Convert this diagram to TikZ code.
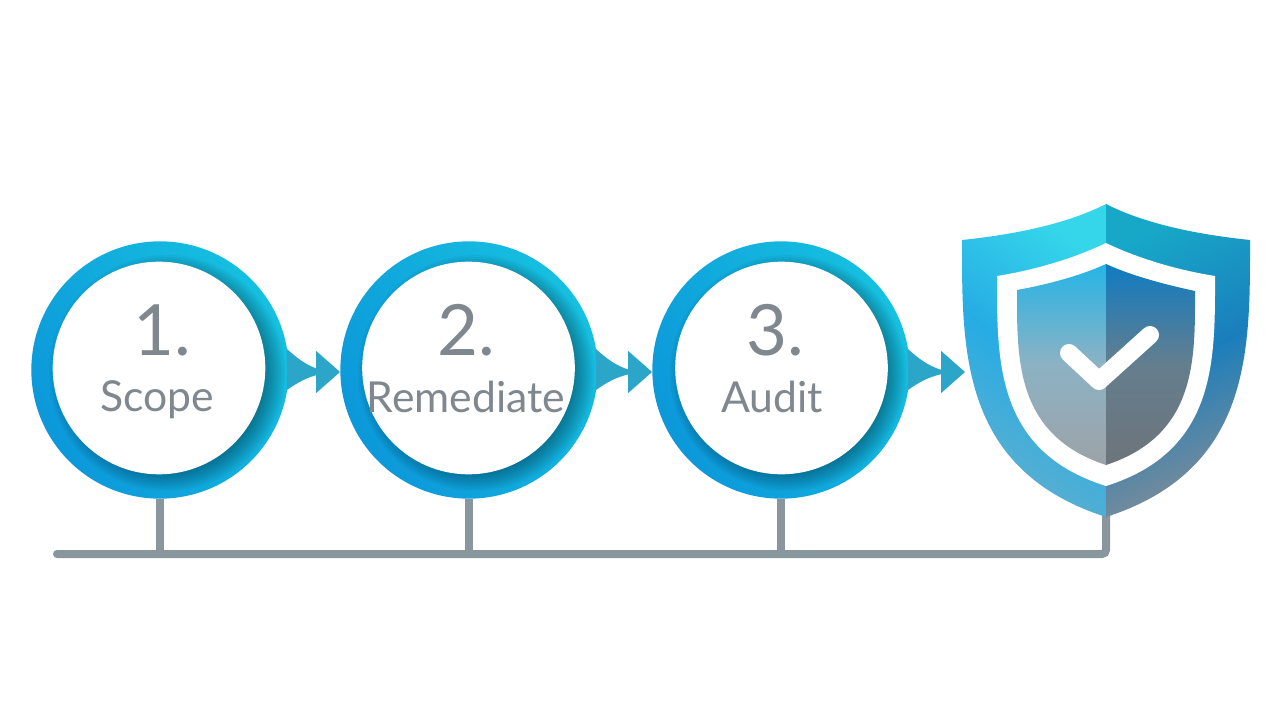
\documentclass[tikz,border=0pt]{standalone}
\usepackage{fontspec}
\setmainfont{Lato}
\usetikzlibrary{arrows.meta}

\definecolor{barcol}{HTML}{8A969E}
\definecolor{textcol}{HTML}{7F878F}
\definecolor{arrowcol}{HTML}{2BA6C8}
\definecolor{ringleft}{HTML}{0C98DA}
\definecolor{ringright}{HTML}{16C0E0}
\definecolor{outertop}{HTML}{35D6EA}
\definecolor{outermid}{HTML}{26ACE4}
\definecolor{outerlow}{HTML}{5FAFCE}
\definecolor{sidetop}{HTML}{17A8C8}
\definecolor{sidemid}{HTML}{1A7EBC}
\definecolor{sidelow}{HTML}{7E8C98}
\definecolor{innertop}{HTML}{25B4E6}
\definecolor{innermid}{HTML}{8DB2C4}
\definecolor{innerlow}{HTML}{9CA3A8}
\definecolor{darktop}{HTML}{0F7CC2}
\definecolor{darkmid}{HTML}{647E8E}
\definecolor{darklow}{HTML}{6D747A}

\tikzset{
    ring/.style={circle, inner sep=0, minimum size=193pt, left color=ringleft, right color=ringright, shading angle=120},
    hole/.style={circle, inner sep=0, minimum size=159.5pt, fill=white},
    numtext/.style={text=textcol, font=\fontsize{53}{53}\selectfont},
    steptext/.style={text=textcol, font=\fontsize{32}{32}\selectfont},
    stem/.style={barcol, line width=6pt},
    flow/.style={arrowcol, line width=3pt, -{Triangle[length=18pt,width=31pt]}},
    pics/flare/.style={code={
	\fill[arrowcol] (-2,-23) .. controls (8,-14) and (18,-6) .. (32,-2)
	    -- (32,2) .. controls (18,5) and (8,11) .. (-2,18) -- cycle;
    }},
}

\begin{document}
\begin{tikzpicture}[x=0.75pt, y=-0.75pt]
    \useasboundingbox (0, 0) rectangle (1280, 720);
    \fill[white] (0, 0) rectangle (1280, 720);

    % bar under the steps
    \coordinate (barstart) at (57, 554);
    \coordinate (shieldfoot) at (1106, 510);
    \coordinate (shieldin) at (965, 372);
    \draw[stem, line cap=round, rounded corners=3pt] (barstart) -- (barstart -| shieldfoot) -- (shieldfoot);

    % rings
    \node[ring] (scopering) at (160, 370) {};
    \node[ring] (fixring) at (469, 370) {};
    \node[ring] (auditring) at (781, 370) {};

    \draw[stem] (scopering.south) -- (scopering.south |- barstart);
    \draw[stem] (fixring.south) -- (fixring.south |- barstart);
    \draw[stem] (auditring.south) -- (auditring.south |- barstart);

    % soft shadow inside each ring
    \begin{scope}
	\clip (160, 370) circle (128.5);
	\foreach \r in {96, 98, ..., 118}
	    \fill[black, opacity=0.035] (167, 373) circle (\r);
    \end{scope}
    \begin{scope}
	\clip (469, 370) circle (128.5);
	\foreach \r in {96, 98, ..., 118}
	    \fill[black, opacity=0.035] (476, 373) circle (\r);
    \end{scope}
    \begin{scope}
	\clip (781, 370) circle (128.5);
	\foreach \r in {96, 98, ..., 118}
	    \fill[black, opacity=0.035] (788, 373) circle (\r);
    \end{scope}

    \node[hole] (scopehole) at (159, 368) {};
    \node[hole] (fixhole) at (468.5, 368) {};
    \node[hole] (audithole) at (781.5, 368) {};

    % arrows
    \pic at ([yshift=-1.5pt]scopering.east) {flare};
    \pic at ([yshift=-1.5pt]fixring.east) {flare};
    \pic at ([yshift=-1.5pt]auditring.east) {flare};
    \draw[flow] ([yshift=-1.5pt]scopering.east) -- ([yshift=-1.5pt]fixring.west);
    \draw[flow] ([yshift=-1.5pt]fixring.east) -- ([yshift=-1.5pt]auditring.west);
    \draw[flow] ([yshift=-1.5pt]auditring.east) -- (shieldin);

    % labels
    \node[numtext] (scopenum) at (162, 330) {1.};
    \node[steptext] (scopetext) at (157, 400) {Scope};
    \node[numtext] (fixnum) at (466, 330) {2.};
    \node[steptext] (fixtext) at (466, 397) {Remediate};
    \node[numtext] (auditnum) at (775, 330) {3.};
    \node[steptext] (audittext) at (772, 397) {Audit};

    % shield
    \shade[top color=outertop, bottom color=outerlow, middle color=outermid, shading angle=-35]
	(1106, 204) .. controls (1065, 225) and (1010, 235) .. (962, 240)
	.. controls (962, 350) and (960, 470) .. (1106, 517) -- cycle;
    \shade[top color=sidetop, bottom color=sidelow, middle color=sidemid, shading angle=25]
	(1106, 204) .. controls (1147, 225) and (1202, 235) .. (1250, 240)
	.. controls (1250, 350) and (1252, 470) .. (1106, 517) -- cycle;
    \fill[white]
	(1106, 243) .. controls (1075, 258) and (1035, 270) .. (997, 276)
	.. controls (997, 360) and (995, 451) .. (1106, 486)
	.. controls (1217, 451) and (1215, 360) .. (1215, 276)
	.. controls (1177, 270) and (1137, 258) .. (1106, 243) -- cycle;
    \shade[top color=innertop, bottom color=innerlow, middle color=innermid]
	(1106, 264) .. controls (1080, 276) and (1045, 285) .. (1017, 290)
	.. controls (1017, 359) and (1015, 435) .. (1106, 465) -- cycle;
    \shade[top color=darktop, bottom color=darklow, middle color=darkmid]
	(1106, 264) .. controls (1132, 276) and (1167, 285) .. (1195, 291)
	.. controls (1195, 359) and (1197, 435) .. (1106, 465) -- cycle;
    \draw[white, line width=13.5pt, line cap=round, line join=round]
	(1069, 353) -- (1099, 381) -- (1150, 335);
\end{tikzpicture}
\end{document}
